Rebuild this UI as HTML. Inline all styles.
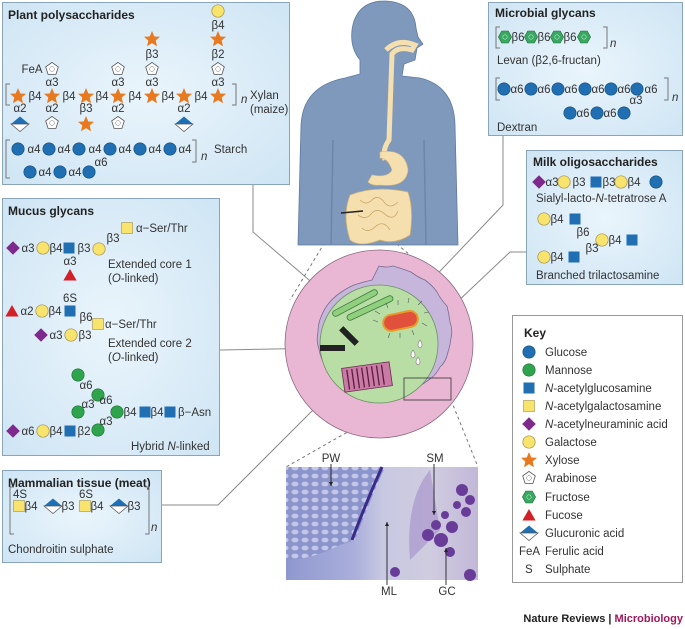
<!DOCTYPE html>
<html><head><meta charset="utf-8"><style>
html,body{margin:0;padding:0;background:#fff;}
svg{display:block;font-family:"Liberation Sans",sans-serif;}
.t{font-size:11.5px;fill:#333;}
.m{text-anchor:middle;}
.h{font-size:12px;font-weight:bold;fill:#222;}
.br{fill:none;stroke:#777;stroke-width:1;}
.cn{fill:none;stroke:#8a8a8a;stroke-width:1;}
.ds{fill:none;stroke:#777;stroke-width:1;stroke-dasharray:3,3;}
</style></head><body>
<svg width="685" height="629" viewBox="0 0 685 629" xmlns="http://www.w3.org/2000/svg">
<defs>
<radialGradient id="bg" cx="50%" cy="50%" r="70%"><stop offset="0" stop-color="#eaf5fc"/><stop offset="1" stop-color="#cfe5f4"/></radialGradient>
<g id="gc"><circle r="6.2" fill="#1f6fb2" stroke="#134a7a" stroke-width=".6"/></g>
<g id="mn"><circle r="6.2" fill="#2ea44c" stroke="#1b6e33" stroke-width=".6"/></g>
<g id="ga"><circle r="6.2" fill="#f8e36c" stroke="#a09050" stroke-width=".7"/></g>
<g id="gn"><rect x="-5.5" y="-5.5" width="11" height="11" fill="#1f6fb2"/></g>
<g id="an"><rect x="-5.5" y="-5.5" width="11" height="11" fill="#f8e36c" stroke="#a09050" stroke-width=".6"/></g>
<g id="sa"><path d="M0,-6.8 L6.8,0 L0,6.8 L-6.8,0Z" fill="#7d2a8c"/></g>
<g id="xy"><path d="M0,-8 L2.3,-2.5 L8,-2.3 L3.7,1.5 L5,7.3 L0,4.1 L-5,7.3 L-3.7,1.5 L-8,-2.3 L-2.3,-2.5Z" fill="#e8791e"/></g>
<g id="ar"><path d="M0,-6.6 L6.3,-2.1 L3.9,5.4 L-3.9,5.4 L-6.3,-2.1Z" fill="#fff" stroke="#555" stroke-width=".8"/><circle r="2.4" fill="none" stroke="#777" stroke-width=".5"/></g>
<g id="fr"><path d="M-3.3,-6 L3.3,-6 L6.6,0 L3.3,6 L-3.3,6 L-6.6,0Z" fill="#3aa860" stroke="#1c6e3a" stroke-width=".6"/><circle r="2.2" fill="none" stroke="#cfe" stroke-width=".5"/></g>
<g id="fu"><path d="M0,-6 L6.6,5.5 L-6.6,5.5Z" fill="#d31f26"/></g>
<g id="gu"><path d="M-9,0 L0,-7.5 L9,0Z" fill="#1f6fb2"/><path d="M-9,0 L0,7.5 L9,0Z" fill="#fff" stroke="#555" stroke-width=".7"/></g>
</defs>

<!-- connectors -->
<path class="cn" d="M253,185 L253,232 L336,303"/>
<path class="cn" d="M220,350 L328,348"/>
<path class="cn" d="M162,505 L218,505 L345,378"/>
<path class="cn" d="M503,135 L503,205 L405,308"/>
<path class="cn" d="M526,252 L510,252 L417,340"/>
<path class="ds" d="M343,212 L290,300"/>
<path class="ds" d="M392,240 L440,280"/>
<path class="ds" d="M404,400 L286,467"/>
<path class="ds" d="M451,400 L478,467"/>

<!-- human -->
<g>
<path d="M298,245 L301,125 Q303,86 345,78 L360,74 L360,60 Q350,48 352,30 Q356,1 385,1 Q414,2 416,28 L418,37 L423,44 L417,48 L415,60 L404,64 L402,76 L420,78 Q454,86 455,125 L458,245 Z" fill="#7f99bd" stroke="#5f7aa0" stroke-width=".8"/>
<path d="M333,140 L331,245 M424,140 L426,245" stroke="#6b86ab" stroke-width="1.5" fill="none"/>
<path d="M386,50 Q398,38 415,45 L412,50 Q398,46 392,54 L389,140 Q382,150 385,160" fill="none" stroke="#f6dfae" stroke-width="5"/>
<path d="M380,152 Q405,148 408,170 Q406,188 380,185 Q372,186 368,182 L372,175 Q388,178 392,170 Q388,158 380,158Z" fill="#f6dfae" stroke="#d9bb7d" stroke-width=".6"/>
<path d="M350,195 Q375,185 408,192 Q414,210 410,235 Q395,245 380,240 Q360,248 350,240 Q342,215 350,195Z" fill="#f6dfae" stroke="#d1b06f" stroke-width=".8"/>
<path d="M360,200 q6,6 12,0 q6,-6 12,2 q6,8 14,0 M358,215 q8,6 14,-2 q6,-6 14,2 q8,6 12,-4 M362,228 q6,6 14,-2 q8,-6 14,4" fill="none" stroke="#c9a868" stroke-width=".8"/>
<path d="M341,213 L363,211" stroke="#222" stroke-width="1.6"/>
</g>

<!-- central circle -->
<circle cx="379" cy="344" r="94" fill="#e9b7d3" stroke="#8a6a80" stroke-width=".8"/>
<path d="M379,266 q8,2 14,0 q10,3 18,6 q8,6 14,8 q8,6 12,12 q4,8 10,14 q2,8 3,16 q3,8 1,16 q-1,8 -3,14 q-2,10 -8,15 q-4,8 -10,12 q-8,6 -14,9 q-8,5 -18,6 q-8,3 -17,2 q-9,1 -18,-2 q-8,-2 -16,-7 q-8,-4 -13,-10 q-6,-6 -10,-13 q-4,-8 -5,-15 q-3,-8 -1,-17 q0,-8 3,-15 q3,-8 8,-14 q5,-6 11,-10 q7,-5 14,-8 q9,-3 18,-5Z" fill="#c7b6dc" stroke="#776a90" stroke-width=".8"/>
<circle cx="379" cy="344" r="59" fill="#b8dea6" stroke="#6d8f62" stroke-width=".8"/>
<g fill="#8fcf7e" stroke="#3c7b3a" stroke-width=".8">
<rect x="330" y="300" width="50" height="6" rx="3" transform="rotate(-28 355 303)"/>
<rect x="345" y="305" width="50" height="6" rx="3" transform="rotate(-25 370 308)"/>
</g>
<rect x="383" y="313" width="35" height="16" rx="8" fill="#e0503a" stroke="#e89a2a" stroke-width="2" transform="rotate(-12 400 321)"/>
<g stroke="#555" stroke-width=".6"><path d="M378,322 l-5,-2 M380,314 l-5,-3 M388,308 l-2,-5 M398,305 l0,-5 M408,303 l1,-5 M418,305 l4,-4 M424,313 l5,-1 M422,323 l5,3 M412,330 l2,5 M400,333 l0,5 M390,333 l-2,5"/></g>
<g fill="#fff" stroke="#777" stroke-width=".6">
<path d="M413,350 q-4,6 0,8 q4,-2 0,-8Z"/><path d="M420,340 q-4,6 0,8 q4,-2 0,-8Z"/><path d="M418,357 q-4,6 0,8 q4,-2 0,-8Z"/>
</g>
<g fill="#222"><rect x="338" y="333" width="22" height="6" transform="rotate(45 349 336)"/><rect x="320" y="345" width="25" height="6"/></g>
<rect x="343" y="365" width="48" height="24" fill="#c97aa5" stroke="#6a2c4f" stroke-width=".8" transform="rotate(-8 367 377)"/>
<g stroke="#5a1d40" stroke-width="1.3" transform="rotate(-8 367 377)"><path d="M348,367v20M353,367v20M358,367v20M363,367v20M368,367v20M373,367v20M378,367v20M383,367v20"/></g>
<rect x="404" y="378" width="47" height="22" fill="none" stroke="#333" stroke-width=".8"/>

<!-- histology -->
<defs><linearGradient id="hg" x1="0" x2="1"><stop offset="0" stop-color="#8f98cf"/><stop offset=".35" stop-color="#a9aedb"/><stop offset=".5" stop-color="#c7c8e2"/><stop offset=".75" stop-color="#d0cce0"/><stop offset="1" stop-color="#c2b8d8"/></linearGradient>
<pattern id="cells" width="10" height="8" patternUnits="userSpaceOnUse"><rect width="10" height="8" fill="#8c94cc"/><ellipse cx="5" cy="4" rx="3.5" ry="2.4" fill="#c3c8e8"/></pattern></defs>
<rect x="286" y="467" width="192" height="113" fill="url(#hg)"/>
<path d="M286,467 L385,467 Q370,500 355,540 L340,545 Q310,560 286,560Z" fill="url(#cells)"/>
<path d="M382,467 Q365,505 352,540" stroke="#3a2a8a" stroke-width="3" fill="none"/>
<path d="M410,560 Q405,500 430,470 L440,530 Z" fill="#a995cc" opacity=".7"/>
<g fill="#6a3c9a"><circle cx="428" cy="535" r="6"/><circle cx="441" cy="540" r="7"/><circle cx="452" cy="527" r="6"/><circle cx="436" cy="525" r="5"/><circle cx="462" cy="490" r="6"/><circle cx="470" cy="500" r="5"/><circle cx="457" cy="505" r="4"/><circle cx="450" cy="552" r="5"/><circle cx="470" cy="575" r="6"/><circle cx="395" cy="572" r="5"/><circle cx="466" cy="512" r="5"/><circle cx="445" cy="515" r="4"/></g>
<text x="331" y="462" class="t m" font-size="10">PW</text><text x="435" y="462" class="t m" font-size="10">SM</text><text x="389" y="595" class="t m" font-size="10">ML</text><text x="447" y="595" class="t m" font-size="10">GC</text>
<path d="M331,464 L331,486 M434,464 L434,515 M387,585 L387,522 M446,585 L446,548" stroke="#222" stroke-width=".9"/>
<path d="M331,486 l-2,-4 h4z M434,515 l-2,-4 h4z M387,522 l-2,4 h4z M446,548 l-2,4 h4z" fill="#222"/>

<!-- Plant polysaccharides -->
<rect x="2.5" y="2.5" width="287" height="182" fill="url(#bg)" stroke="#8aa5b8"/>
<text x="8" y="19" class="h">Plant polysaccharides</text>
<use href="#ga" x="218" y="11"/>
<text x="218" y="29" class="t m">β4</text>
<use href="#xy" x="152" y="39"/><use href="#xy" x="218" y="39"/>
<text x="152" y="58" class="t m">β3</text><text x="218" y="58" class="t m">β2</text>
<text x="32" y="73" class="t m">FeA</text>
<use href="#ar" x="52" y="69"/><use href="#ar" x="118" y="69"/><use href="#ar" x="152" y="69"/><use href="#ar" x="218" y="69"/>
<text x="52" y="86" class="t m">α3</text><text x="118" y="86" class="t m">α3</text><text x="152" y="86" class="t m">α3</text><text x="218" y="86" class="t m">α3</text>
<path class="br" d="M10,84 H6 V105 H10 M232,84 H236 V105 H232"/>
<use href="#xy" x="18" y="96"/><use href="#xy" x="52" y="96"/><use href="#xy" x="86" y="96"/><use href="#xy" x="118" y="96"/><use href="#xy" x="152" y="96"/><use href="#xy" x="184" y="96"/><use href="#xy" x="218" y="96"/>
<text x="35" y="100" class="t m">β4</text><text x="69" y="100" class="t m">β4</text><text x="102" y="100" class="t m">β4</text><text x="135" y="100" class="t m">β4</text><text x="168" y="100" class="t m">β4</text><text x="201" y="100" class="t m">β4</text>
<text x="241" y="103" class="t" font-style="italic">n</text>
<text x="250" y="99" class="t">Xylan</text><text x="250" y="113" class="t">(maize)</text>
<text x="20" y="112" class="t m">α2</text><text x="52" y="112" class="t m">α2</text><text x="86" y="112" class="t m">β3</text><text x="118" y="112" class="t m">α2</text><text x="184" y="112" class="t m">α2</text>
<use href="#gu" x="20" y="124"/><use href="#ar" x="52" y="123"/><use href="#xy" x="86" y="124"/><use href="#ar" x="118" y="123"/><use href="#gu" x="184" y="124"/>
<path class="br" d="M10,140 H6 V178 H10 M192,140 H196 V162 H192"/>
<use href="#gc" x="18" y="149"/><use href="#gc" x="49" y="149"/><use href="#gc" x="79" y="149"/><use href="#gc" x="110" y="149"/><use href="#gc" x="140" y="149"/><use href="#gc" x="170" y="149"/>
<text x="34" y="153" class="t m">α4</text><text x="64" y="153" class="t m">α4</text><text x="95" y="153" class="t m">α4</text><text x="125" y="153" class="t m">α4</text><text x="155" y="153" class="t m">α4</text><text x="185" y="153" class="t m">α4</text>
<text x="201" y="160" class="t" font-style="italic">n</text><text x="214" y="153" class="t">Starch</text>
<use href="#gc" x="30" y="172"/><use href="#gc" x="60" y="172"/><use href="#gc" x="89" y="172"/>
<text x="45" y="176" class="t m">α4</text><text x="75" y="176" class="t m">α4</text><text x="101" y="166" class="t m">α6</text>

<!-- Mucus glycans -->
<rect x="2.5" y="198.5" width="217" height="257" fill="url(#bg)" stroke="#8aa5b8"/>
<text x="8" y="215" class="h">Mucus glycans</text>
<use href="#an" x="127" y="228"/><text x="136" y="232" class="t">α−Ser/Thr</text>
<text x="113" y="242" class="t m">β3</text>
<use href="#sa" x="13" y="248"/><text x="28" y="252" class="t m">α3</text><use href="#ga" x="43" y="248"/><text x="56" y="252" class="t m">β4</text><use href="#gn" x="69" y="248"/><text x="84" y="252" class="t m">β3</text><use href="#ga" x="99" y="249"/>
<text x="70" y="265" class="t m">α3</text><use href="#fu" x="70" y="275"/>
<text x="108" y="268" class="t">Extended core 1</text><text x="108" y="282" class="t">(<tspan font-style="italic">O</tspan>-linked)</text>
<text x="70" y="302" class="t m">6S</text>
<use href="#fu" x="12" y="311"/><text x="27" y="315" class="t m">α2</text><use href="#ga" x="42" y="311"/><text x="55" y="315" class="t m">β4</text><use href="#gn" x="70" y="311"/>
<text x="86" y="321" class="t m">β6</text><use href="#an" x="98" y="324"/><text x="105" y="328" class="t">α−Ser/Thr</text>
<use href="#sa" x="41" y="335"/><text x="56" y="339" class="t m">α3</text><use href="#ga" x="71" y="335"/><text x="85" y="339" class="t m">β3</text>
<text x="108" y="347" class="t">Extended core 2</text><text x="108" y="361" class="t">(<tspan font-style="italic">O</tspan>-linked)</text>
<use href="#mn" x="78" y="375"/><text x="86" y="389" class="t m">α6</text><use href="#mn" x="98" y="395"/><text x="106" y="404" class="t m">α6</text>
<text x="88" y="408" class="t m">α3</text><use href="#mn" x="78" y="412"/><use href="#mn" x="117" y="412"/>
<text x="130" y="416" class="t m">β4</text><use href="#gn" x="145" y="412"/><text x="157" y="416" class="t m">β4</text><use href="#gn" x="170" y="412"/><text x="178" y="416" class="t">β−Asn</text>
<text x="106" y="425" class="t m">α3</text>
<use href="#sa" x="13" y="431"/><text x="28" y="435" class="t m">α6</text><use href="#ga" x="43" y="431"/><text x="56" y="435" class="t m">β4</text><use href="#gn" x="70" y="431"/><text x="84" y="435" class="t m">β2</text><use href="#mn" x="98" y="430"/>
<text x="131" y="450" class="t">Hybrid <tspan font-style="italic">N</tspan>-linked</text>

<!-- Mammalian tissue -->
<rect x="2.5" y="470.5" width="159" height="92" fill="url(#bg)" stroke="#8aa5b8"/>
<text x="8" y="487" class="h">Mammalian tissue (meat)</text>
<path class="br" d="M14,487 H10 V534 H14 M145,487 H149 V534 H145"/>
<text x="13" y="498" class="t">4S</text><text x="79" y="498" class="t">6S</text>
<use href="#an" x="19" y="506"/><text x="31" y="510" class="t m">β4</text><use href="#gu" x="53" y="506"/><text x="68" y="510" class="t m">β3</text>
<use href="#an" x="85" y="506"/><text x="97" y="510" class="t m">β4</text><use href="#gu" x="119" y="506"/><text x="134" y="510" class="t m">β3</text>
<text x="151" y="531" class="t" font-style="italic">n</text>
<text x="8" y="553" class="t">Chondroitin sulphate</text>

<!-- Microbial glycans -->
<rect x="488.5" y="2.5" width="194" height="133" fill="url(#bg)" stroke="#8aa5b8"/>
<text x="495" y="17" class="h">Microbial glycans</text>
<path class="br" d="M500,27 H496 V48 H500 M603,27 H607 V48 H603"/>
<use href="#fr" x="505" y="37"/><text x="518" y="41" class="t m">β6</text><use href="#fr" x="531" y="37"/><text x="544" y="41" class="t m">β6</text><use href="#fr" x="557" y="37"/><text x="570" y="41" class="t m">β6</text><use href="#fr" x="584" y="37"/>
<text x="610" y="47" class="t" font-style="italic">n</text>
<text x="497" y="64" class="t">Levan (β2,6-fructan)</text>
<path class="br" d="M500,78 H496 V100 H500 M664,78 H668 V100 H664"/>
<use href="#gc" x="504" y="89"/><use href="#gc" x="531" y="89"/><use href="#gc" x="558" y="89"/><use href="#gc" x="585" y="89"/><use href="#gc" x="611" y="89"/><use href="#gc" x="637" y="89"/>
<text x="517" y="93" class="t m">α6</text><text x="544" y="93" class="t m">α6</text><text x="571" y="93" class="t m">α6</text><text x="598" y="93" class="t m">α6</text><text x="624" y="93" class="t m">α6</text><text x="651" y="93" class="t m">α6</text>
<text x="672" y="101" class="t" font-style="italic">n</text>
<text x="636" y="104" class="t m">α3</text>
<use href="#gc" x="570" y="113"/><text x="583" y="117" class="t m">α6</text><use href="#gc" x="597" y="113"/><text x="610" y="117" class="t m">α6</text><use href="#gc" x="624" y="113"/>
<text x="497" y="131" class="t">Dextran</text>

<!-- Milk oligosaccharides -->
<rect x="526.5" y="150.5" width="156" height="134" fill="url(#bg)" stroke="#8aa5b8"/>
<text x="533" y="166" class="h">Milk oligosaccharides</text>
<use href="#sa" x="539" y="182"/><text x="552" y="186" class="t m">α3</text><use href="#ga" x="564" y="182"/><text x="579" y="186" class="t m">β3</text><use href="#gn" x="596" y="182"/><text x="609" y="186" class="t m">β3</text><use href="#ga" x="621" y="182"/><text x="634" y="186" class="t m">β4</text><use href="#gc" x="656" y="182"/>
<text x="536" y="202" class="t">Sialyl-lacto-<tspan font-style="italic">N</tspan>-tetratrose A</text>
<use href="#ga" x="544" y="219"/><text x="557" y="223" class="t m">β4</text><use href="#gn" x="575" y="219"/>
<text x="583" y="236" class="t m">β6</text><use href="#ga" x="602" y="240"/><text x="615" y="244" class="t m">β4</text><use href="#gn" x="632" y="240"/>
<text x="592" y="252" class="t m">β3</text>
<use href="#ga" x="544" y="257"/><text x="557" y="261" class="t m">β4</text><use href="#gn" x="574" y="257"/>
<text x="536" y="279" class="t">Branched trilactosamine</text>

<!-- Key -->
<rect x="512.5" y="315.5" width="170" height="267" fill="#fff" stroke="#999"/>
<text x="524" y="337" class="h">Key</text>
<use href="#gc" x="529" y="352"/><text x="545" y="356" class="t">Glucose</text>
<use href="#mn" x="529" y="370"/><text x="545" y="374" class="t">Mannose</text>
<use href="#gn" x="529" y="388"/><text x="545" y="392" class="t"><tspan font-style="italic">N</tspan>-acetylglucosamine</text>
<use href="#an" x="529" y="406"/><text x="545" y="410" class="t"><tspan font-style="italic">N</tspan>-acetylgalactosamine</text>
<use href="#sa" x="529" y="424"/><text x="545" y="428" class="t"><tspan font-style="italic">N</tspan>-acetylneuraminic acid</text>
<use href="#ga" x="529" y="442"/><text x="545" y="446" class="t">Galactose</text>
<use href="#xy" x="529" y="460"/><text x="545" y="464" class="t">Xylose</text>
<use href="#ar" x="529" y="478"/><text x="545" y="482" class="t">Arabinose</text>
<use href="#fr" x="529" y="497"/><text x="545" y="501" class="t">Fructose</text>
<use href="#fu" x="529" y="515"/><text x="545" y="519" class="t">Fucose</text>
<use href="#gu" x="529" y="533"/><text x="545" y="537" class="t">Glucuronic acid</text>
<text x="519" y="555" class="t">FeA</text><text x="545" y="555" class="t">Ferulic acid</text>
<text x="525" y="573" class="t">S</text><text x="545" y="573" class="t">Sulphate</text>

<text x="683" y="622" text-anchor="end" style="font-size:11px;font-weight:bold;fill:#222">Nature Reviews | <tspan fill="#a0185a">Microbiology</tspan></text>
</svg>
</body></html>
